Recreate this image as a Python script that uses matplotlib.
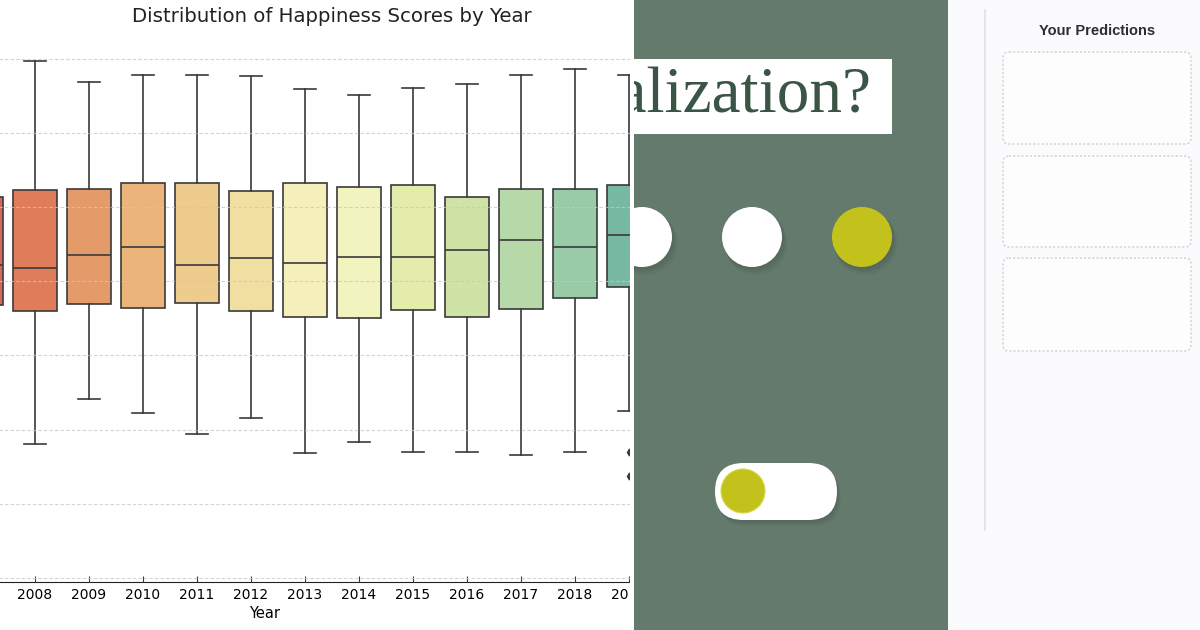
import matplotlib
matplotlib.use("Agg")
import matplotlib.pyplot as plt
import seaborn as sns
from matplotlib.patches import Rectangle, Circle, FancyBboxPatch

# ---------------- data ----------------
years = [2007, 2008, 2009, 2010, 2011, 2012, 2013, 2014, 2015, 2016, 2017, 2018, 2019]
whisker_high = [7.82, 7.97, 7.69, 7.78, 7.78, 7.77, 7.59, 7.51, 7.61, 7.66, 7.78, 7.86, 7.78]
q3 = [6.13, 6.23, 6.25, 6.32, 6.32, 6.22, 6.33, 6.27, 6.30, 6.14, 6.25, 6.25, 6.30]
median = [5.22, 5.18, 5.36, 5.46, 5.22, 5.31, 5.25, 5.33, 5.33, 5.42, 5.56, 5.46, 5.63]
q1 = [4.68, 4.60, 4.69, 4.64, 4.71, 4.60, 4.52, 4.50, 4.61, 4.52, 4.62, 4.77, 4.92]
whisker_low = [3.28, 2.81, 3.41, 3.23, 2.94, 3.16, 2.69, 2.84, 2.70, 2.70, 2.66, 2.70, 3.25]
outliers = {2019: [2.70, 2.38]}
palette_years = list(range(2005, 2023))
labelled_years = [2008, 2009, 2010, 2011, 2012, 2013, 2014, 2015, 2016, 2017, 2018, 2019]

title = "Distribution of Happiness Scores by Year"
x_label = "Year"
panel_text = "visualization?"
side_title = "Your Predictions"

# ---------------- figure ----------------
W, H = 1200, 630
fig = plt.figure(figsize=(W / 100, H / 100), dpi=100)
fig.patch.set_facecolor("white")


def fx(px):
    return px / W


def fy(py):
    return 1 - py / H


# chart axes (extends off the left edge, right part cut)
left_px, right_px, top_px, bottom_px = -100, 630, 35.7, 582
ax = fig.add_axes([fx(left_px), fy(bottom_px), fx(right_px - left_px), (bottom_px - top_px) / H])
px_per_year = 54.0
x0_px = 35.0
ax.set_xlim(2008 + (left_px - x0_px) / px_per_year, 2008 + (right_px - x0_px) / px_per_year)
ax.set_ylim(0.947, 8.31)

pal = sns.color_palette("Spectral", len(palette_years))
colors = [sns.desaturate(pal[palette_years.index(y)], 0.75) for y in years]

stats = []
for i, y in enumerate(years):
    stats.append(dict(med=median[i], q1=q1[i], q3=q3[i], whislo=whisker_low[i],
                      whishi=whisker_high[i], fliers=outliers.get(y, []), label=str(y)))

lc = "#3a3a3a"
bp = ax.bxp(stats, positions=years, widths=0.8, capwidths=0.4, patch_artist=True,
            boxprops=dict(edgecolor=lc, linewidth=1.2),
            whiskerprops=dict(color=lc, linewidth=1.2),
            capprops=dict(color=lc, linewidth=1.2),
            medianprops=dict(color=lc, linewidth=1.2),
            flierprops=dict(marker="d", markersize=3.5, markerfacecolor=lc, markeredgecolor=lc))
for patch, c in zip(bp["boxes"], colors):
    patch.set_facecolor(c)

ax.set_yticks(range(1, 9))
ax.yaxis.grid(True, linestyle=(0, (3, 2)), color="#c8c8c8", linewidth=0.8, alpha=0.8)
ax.set_axisbelow(False)
ax.set_xticks(labelled_years)
ax.set_xticklabels([str(y) for y in labelled_years], fontsize=10)
ax.tick_params(axis="x", direction="in", length=4, color=lc, pad=4)
ax.tick_params(axis="y", left=False, labelleft=False)
for s in ["top", "left", "right"]:
    ax.spines[s].set_visible(False)
ax.spines["bottom"].set_color("#222222")
ax.set_xlabel(x_label, fontsize=10.5, labelpad=3)
ax.set_facecolor("white")

fig.text(fx(332), fy(17), title, ha="center", va="center", fontsize=14.2, color="#222222")

# white strip between chart and panel (covers the cut tick label)
strip = fig.add_axes([fx(630), 0, fx(4), 1])
strip.set_facecolor("white")
strip.set_xticks([])
strip.set_yticks([])
for s in strip.spines.values():
    s.set_visible(False)

# ---------------- green panel ----------------
gp = fig.add_axes([fx(634), 0, fx(948 - 634), 1])
gp.set_xlim(0, 314)
gp.set_ylim(630, 0)
gp.set_facecolor("#647a6c")
gp.set_xticks([])
gp.set_yticks([])
for s in gp.spines.values():
    s.set_visible(False)

olive = "#c3c21d"
shadow = "#4c5f53"

gp.add_patch(Rectangle((-10, 59), 268, 75, facecolor="white", edgecolor="none", zorder=2))
t = gp.text(237, 112, panel_text, ha="right", va="baseline", fontsize=47,
            family="Liberation Serif", color="#3a5546", zorder=3)
t.set_clip_path(gp.patch)
t.set_clip_on(True)

for cx, fc in [(8, "white"), (118, "white"), (228, olive)]:
    for k, a in [(6, 0.18), (4, 0.25), (2, 0.3)]:
        gp.add_patch(Circle((cx + k * 0.6, 237 + k), 30 + k * 0.3, facecolor=shadow,
                            edgecolor="none", alpha=a, zorder=2))
    gp.add_patch(Circle((cx, 237), 30, facecolor=fc, edgecolor="none", zorder=3))

# toggle
for k, a in [(6, 0.18), (4, 0.25), (2, 0.3)]:
    gp.add_patch(FancyBboxPatch((109.5 + k * 0.6, 491.5 + k), 65, 0.01,
                                boxstyle="round,pad=28.5",
                                facecolor=shadow, edgecolor="none", alpha=a, zorder=2))
gp.add_patch(FancyBboxPatch((109.5, 491.5), 65, 0.01,
                            boxstyle="round,pad=28.5",
                            facecolor="white", edgecolor="none", zorder=3))
gp.add_patch(Circle((109, 491), 22, facecolor=olive, edgecolor="#d8d84a", linewidth=0.8, zorder=4))

# ---------------- right panel ----------------
rp = fig.add_axes([fx(948), 0, fx(1200 - 948), 1])
rp.set_xlim(0, 252)
rp.set_ylim(630, 0)
rp.set_facecolor("#fbfafc")
rp.set_xticks([])
rp.set_yticks([])
for s in rp.spines.values():
    s.set_visible(False)
rp.plot([37, 37], [10, 530], color="#e6e4e8", linewidth=1.5)
rp.text(149, 31, side_title, ha="center", va="center", fontsize=10.5,
        family="Liberation Sans", fontweight="bold", color="#2e2e2e")
for top, bot in [(52, 144), (156, 247), (258, 351)]:
    rp.add_patch(FancyBboxPatch((55 + 6, top + 6), 188 - 12, bot - top - 12,
                                boxstyle="round,pad=6",
                                facecolor="#fdfdfe", edgecolor="#cfcfcf",
                                linewidth=1.0, linestyle=(0, (1.5, 1.5))))

fig.savefig("out.png", dpi=100)
